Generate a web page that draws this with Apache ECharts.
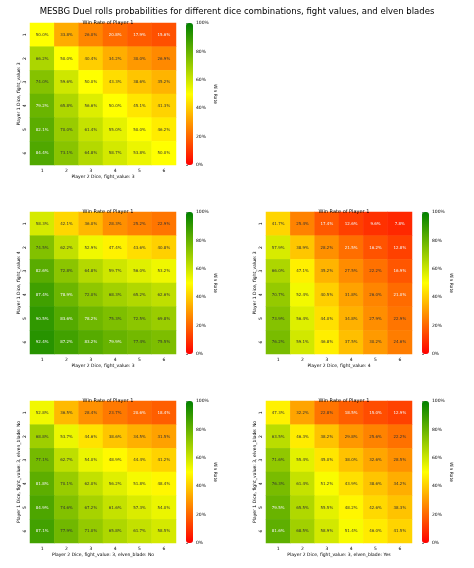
<!DOCTYPE html>
<html>
<head>
<meta charset="utf-8">
<script src="https://cdn.jsdelivr.net/npm/echarts@6/dist/echarts.min.js"></script>
<style>html,body{margin:0;padding:0;background:#fff}#main{width:474px;height:568px}</style>
</head>
<body>
<div id="main"></div>
<script>
const dice = ['1', '2', '3', '4', '5', '6']

// rows = player 1 dice (1..6), columns = player 2 dice (1..6)
const win_rate_3v3 = [
    [50.0, 33.8, 26.0, 20.8, 17.9, 15.6],
    [66.2, 50.0, 40.4, 34.2, 30.0, 26.9],
    [74.0, 59.6, 50.0, 43.3, 38.6, 35.2],
    [79.2, 65.8, 56.6, 50.0, 45.1, 41.3],
    [82.1, 70.0, 61.4, 55.0, 50.0, 46.2],
    [84.4, 73.1, 64.8, 58.7, 53.8, 50.0]
]
const win_rate_4v3 = [
    [58.3, 42.1, 36.0, 28.3, 25.2, 22.9],
    [74.5, 62.2, 52.9, 47.4, 43.6, 40.8],
    [82.6, 72.8, 64.8, 59.7, 56.0, 53.2],
    [87.4, 78.9, 72.0, 68.3, 65.2, 62.6],
    [90.5, 83.6, 78.2, 75.3, 72.5, 69.8],
    [92.4, 87.2, 83.2, 79.9, 77.4, 75.5]
]
const win_rate_3v4 = [
    [41.7, 25.4, 17.4, 12.6, 9.6, 7.8],
    [57.9, 38.9, 28.2, 21.5, 16.2, 12.8],
    [66.0, 47.1, 35.2, 27.5, 22.2, 16.9],
    [70.7, 52.4, 40.5, 31.8, 26.0, 21.0],
    [73.9, 56.4, 44.0, 34.8, 27.9, 22.9],
    [76.2, 59.1, 46.8, 37.5, 30.2, 24.6]
]
const win_rate_blade_no = [
    [52.8, 36.5, 28.4, 23.7, 20.6, 18.4],
    [68.8, 53.7, 44.6, 38.6, 34.5, 31.5],
    [77.1, 62.7, 54.0, 48.9, 44.4, 41.2],
    [81.8, 70.1, 62.0, 56.2, 51.8, 48.4],
    [84.9, 74.6, 67.2, 61.6, 57.3, 54.0],
    [87.1, 77.9, 71.0, 65.8, 61.7, 58.5]
]
const win_rate_blade_yes = [
    [47.3, 32.2, 22.8, 18.5, 15.0, 12.9],
    [63.5, 46.3, 38.2, 29.8, 25.6, 22.2],
    [71.6, 55.4, 45.0, 38.0, 32.6, 28.5],
    [76.3, 61.4, 51.2, 43.9, 38.6, 34.2],
    [79.5, 65.5, 55.5, 48.2, 42.6, 38.3],
    [81.6, 68.5, 58.9, 51.4, 46.0, 41.5]
]

const panels = [
    {data: win_rate_3v3, left: 30, top: 23, ylab: 'Player 1 Dice, fight_value: 3', xlab: 'Player 2 Dice, fight_value: 3'},
    {data: win_rate_4v3, left: 30, top: 212, ylab: 'Player 1 Dice, fight_value: 4', xlab: 'Player 2 Dice, fight_value: 3'},
    {data: win_rate_3v4, left: 266, top: 212, ylab: 'Player 1 Dice, fight_value: 3', xlab: 'Player 2 Dice, fight_value: 4'},
    {data: win_rate_blade_no, left: 30, top: 401, ylab: 'Player 1 Dice, fight_value: 3, elven_blade: No', xlab: 'Player 2 Dice, fight_value: 3, elven_blade: No'},
    {data: win_rate_blade_yes, left: 266, top: 401, ylab: 'Player 1 Dice, fight_value: 3, elven_blade: No', xlab: 'Player 2 Dice, fight_value: 3, elven_blade: Yes'}
]
const W = 146, H = 142
const ramp = ['#ff0000', '#ffff00', '#008000']

let chart = echarts.init(document.getElementById('main'))
let grid = [], xAxis = [], yAxis = [], series = [], visualMap = [], title = []

title.push({text: 'MESBG Duel rolls probabilities for different dice combinations, fight values, and elven blades',
    left: 'center', top: 2, textStyle: {fontSize: 8.5, fontWeight: 'normal', color: '#000', fontFamily: 'DejaVu Sans'}})

panels.forEach((p, i) => {
    const g = i * 2
    grid.push({left: p.left, top: p.top, width: W, height: H})
    grid.push({left: p.left + W + 10, top: p.top, width: 7, height: H})
    title.push({text: 'Win Rate of Player 1', left: p.left + W / 2, top: p.top - 8, textAlign: 'center',
        textStyle: {fontSize: 5, fontWeight: 'normal', color: '#000', fontFamily: 'DejaVu Sans'}})
    xAxis.push({type: 'category', gridIndex: g, data: dice, name: p.xlab, nameLocation: 'middle', nameGap: 9,
        nameTextStyle: {fontSize: 4.5, color: '#000'},
        axisLine: {show: false}, axisTick: {length: 2, lineStyle: {color: '#000', width: 0.5}, alignWithLabel: true},
        axisLabel: {fontSize: 4.5, color: '#000', margin: 3}, splitLine: {show: false}})
    yAxis.push({type: 'category', gridIndex: g, data: dice, inverse: true, name: p.ylab, nameLocation: 'middle', nameGap: 9,
        nameTextStyle: {fontSize: 4.5, color: '#000'},
        axisLine: {show: false}, axisTick: {length: 2, lineStyle: {color: '#000', width: 0.5}, alignWithLabel: true},
        axisLabel: {fontSize: 4.5, color: '#000', margin: 3, rotate: 90}, splitLine: {show: false}})
    // colorbar scale
    xAxis.push({type: 'value', gridIndex: g + 1, show: false, min: 0, max: 1})
    yAxis.push({type: 'value', gridIndex: g + 1, position: 'right', min: 0, max: 100, interval: 20,
        name: 'Win Rate', nameLocation: 'middle', nameGap: 15, nameRotate: -90,
        nameTextStyle: {fontSize: 4.5, color: '#000'},
        axisLine: {show: false}, axisTick: {show: true, length: 2, lineStyle: {color: '#000', width: 0.5}},
        axisLabel: {fontSize: 4.5, color: '#000', margin: 3, formatter: '{value}%'}, splitLine: {show: false}})

    let cells = []
    p.data.forEach((row, r) => row.forEach((v, c) => cells.push([c, r, v])))
    series.push({type: 'heatmap', xAxisIndex: g, yAxisIndex: g, data: cells,
        label: {show: true, fontSize: 4,
            formatter: (d) => d.value[2].toFixed(1) + '%',
            rich: {}},
        labelLayout: null})
    visualMap.push({type: 'continuous', min: 0, max: 100, seriesIndex: i, calculable: false, text: ['', ''],
        inRange: {color: ramp}, itemWidth: 7, itemHeight: H, left: p.left + W + 10, top: p.top, padding: 0,
        showLabel: false})
    // light text on dark (deep green / red) cells
    series[series.length - 1].data = cells.map(c => ({value: c,
        label: {color: (c[2] > 78 || c[2] < 22) ? '#f4f4f4' : '#333'}}))
})

chart.setOption({
    animation: false,
    textStyle: {fontFamily: 'DejaVu Sans'},
    title: title, grid: grid, xAxis: xAxis, yAxis: yAxis, visualMap: visualMap, series: series
})
</script>
</body>
</html>
